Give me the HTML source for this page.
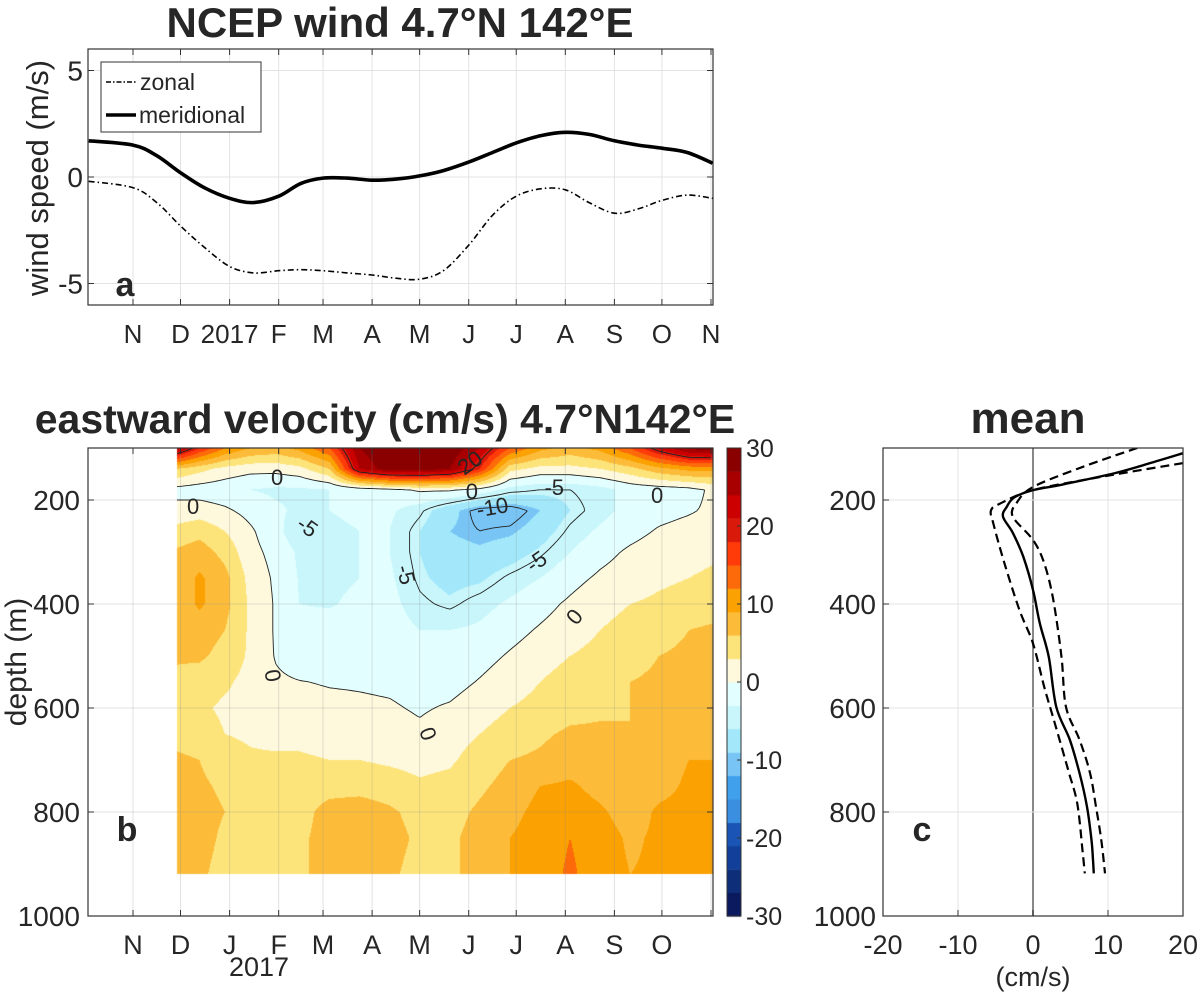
<!DOCTYPE html>
<html><head><meta charset="utf-8">
<style>
html,body{margin:0;padding:0;background:#fff;}
#wrap{position:relative;width:1200px;height:1000px;overflow:hidden;}
canvas,svg{position:absolute;left:0;top:0;}
text{font-family:"Liberation Sans",Arial,sans-serif;fill:#262626;}
</style></head>
<body>
<div id="wrap">
<canvas id="cv" width="1200" height="1000"></canvas>
<svg id="sv" width="1200" height="1000" xmlns="http://www.w3.org/2000/svg"></svg>
</div>
<script>
// ---------- data ----------
const monthDays=[0,30,61,92,120,151,181,212,242,273,304,334,365];
const monthLabelsA=['N','D','2017','F','M','A','M','J','J','A','S','O','N'];
const monthLabelsB=['N','D','J','F','M','A','M','J','J','A','S','O'];
const windDays=[-28,0,15,30,45,61,76,92,106,120,135,151,166,181,196,212,227,242,258,273,288,304,319,334,350,366];
const meridional=[1.7,1.5,1.0,0.2,-0.5,-1.0,-1.2,-0.9,-0.3,-0.05,-0.05,-0.15,-0.1,0.05,0.3,0.7,1.15,1.6,1.95,2.1,2.0,1.7,1.5,1.35,1.15,0.65];
const zonal=[-0.2,-0.5,-1.2,-2.3,-3.3,-4.2,-4.5,-4.4,-4.35,-4.4,-4.5,-4.6,-4.75,-4.8,-4.4,-3.2,-1.8,-0.9,-0.55,-0.6,-1.2,-1.7,-1.5,-1.1,-0.85,-1.0];
const windTicks=[-5,0,5];
const gridDays=[28,42,58,74,90,105,124,143,162,181,200,219,238,257,276,295,314,332,351,366];
const gridDepths=[100,140,180,220,260,300,350,400,450,500,550,600,650,700,750,800,850,920];
const velocity=[
[25,18,12,9,8,10,15,27,31,31,30,24,15,10,8,10,15,22,28,29],
[6,4,2,1,1,2,6,24,29,29,27,18,4,2,2,3,5,8,10,10],
[-1,-1.5,-2,-3,-3.5,-3.5,-3,-2,-1,0.5,0.5,-1,-4,-5,-5,-4,-2,-1.5,-1,0.5],
[1,1.5,0.5,-1,-2.5,-3.5,-3,-2.5,-2.5,-4.5,-8,-11,-11.5,-9,-6,-4,-2,-1,-0.3,0.5],
[4,5,3,0.5,-2,-5,-3.5,-3,-3,-6,-9,-10,-9.5,-7.5,-4.5,-2.5,-1,0.3,1,1.5],
[6.5,7.5,5,1,-1,-3.5,-3.5,-3,-3,-6,-8,-8.5,-7.5,-5.5,-3,-1,0.5,1.5,2,2.5],
[7,9.5,7,2,-0.5,-3.2,-3.5,-3,-2.5,-5.5,-7,-6.5,-4.5,-3,-1,0.5,1.5,2.5,3,3.5],
[7,9.5,7,2.5,-0.3,-3,-3.2,-2.5,-2,-4.5,-5.5,-4,-2.5,-1,0.5,2,3,3.5,4,4.5],
[6.5,7.5,6,2.5,-0.3,-2,-2,-1.5,-1.5,-3,-3,-2.5,-1,0.3,1.5,3,4,5,6,6.5],
[6.5,6.5,5,2.5,-0.2,-1.5,-1.5,-1,-1,-2,-2,-1,0.3,1.5,3,4,5,6,6.5,7],
[5,4.5,3.5,2,0.5,0.1,-0.2,-0.3,-0.5,-1,-1,0.2,1.5,3,4.5,5,6,6.5,7,7],
[4,3.5,2.5,2,1.5,1,0.7,0.5,0.3,-0.3,0.3,1.5,3,4,5,5.5,6,7,7.5,7],
[5,4.5,3,2.5,2,2,1.5,1.5,1.2,0.5,1.5,3,4.5,5.5,6.5,6.5,6,7,8,7.5],
[6.5,6,4.5,3.5,3.5,3.5,3,3,2.5,2,2.5,4.5,6,6.5,7.5,7,6,7.5,9,9],
[6.5,6.5,5.5,4,4,4.5,5,5,4.5,3.5,4,5.5,7,9,9.5,8,7,8,9.5,9.5],
[7,7,6,4.5,4.5,5,7,7.5,6.5,5,5,6.5,8,10,10.5,9.5,7.5,9.5,10,10],
[7.5,7,5.5,4.5,4.5,5.5,7,7.5,7,5.5,5.5,7,9,10.5,12,10.5,8.5,9.5,10,10],
[7,6.5,5,4.5,4.5,5.5,7,7.5,6.5,5,5.5,7,9,10.5,12.5,10.5,9,9.5,10,10]];
const contourLevels=[-10,-5,0,20];
const labelDays=[91,38,110,213,214,227,266,331,172,255,279,88,186];
const labelDepths=[158,213,252,129,185,215,177,192,344,319,425,538,650];
const labelTexts=['0','0','-5','20','0','-10','-5','0','-5','-5','0','0','0'];
const labelAngles=[0,0,35,-35,0,-10,0,0,75,-35,-50,80,70];
const cbTicks=[-30,-20,-10,0,10,20,30];
const levelColors=['#0b1a5e','#0e2e7a','#123f99','#1a55b5','#3a8fe0','#40a0ec','#78c4f5','#a2e8fa','#c8f6fb','#e2fefe','#fef8dc','#fde47a','#fcbc3a','#fba101','#fd6a0a','#ff3b0a','#d91a0a','#cc0000','#a80000','#8a0000'];
const depthTicks=[200,400,600,800,1000];
const meanTicks=[-20,-10,0,10,20];
const meanDepth=[110,123,148,170,181,195,213,232,263,309,373,437,502,598,661,725,790,854,892,918];
const meanVel=[20,17,11,4,0,-2.5,-3.5,-4,-2.7,-1.3,0,0.9,2.1,3.1,4.9,6.2,7.2,7.8,8,8.1];
const upperDepth=[100,136,175,206,232,277,322,392,502,598,661,725,790,854,918];
const upperVel=[13.9,6.7,0,-2.2,-2.7,0,1.5,2.7,3.8,4.4,6.2,7.6,8.4,9.1,9.6];
const lowerDepth=[129,156,181,207,220,245,322,412,476,560,624,720,784,874,918];
const lowerVel=[20,8.9,0,-4.4,-5.6,-5.3,-3.8,-1.8,0,1.5,2.8,4.7,5.9,6.6,6.9];

// ---------- scales ----------
const X0=133, PXD=578/365;
const xT=d=>X0+d*PXD, xTinv=p=>(p-X0)/PXD;
const A={l:88,r:713,t:49,b:305}, yA=v=>177-v*21.3;
const B={l:88,r:713,t:448,b:916}, yD=d=>448+(d-100)*0.52, yDinv=p=>100+(p-448)/0.52;
const C={l:883,r:1183,t:448,b:916}, xC=v=>1033+v*7.5;
const CB={l:727,r:741,t:448,b:916}, yCB=v=>682-v*(234/30);

const NS='http://www.w3.org/2000/svg', sv=document.getElementById('sv');
function el(tag,attrs,parent){const e=document.createElementNS(NS,tag);for(const k in attrs)e.setAttribute(k,attrs[k]);(parent||sv).appendChild(e);return e;}
function txt(s,x,y,size,anchor,parent,extra){const t=el('text',Object.assign({x:x,y:y,'font-size':size,'text-anchor':anchor||'middle'},extra||{}),parent);t.textContent=s;return t;}
function smoothPath(pts){let d='M'+pts[0][0].toFixed(1)+' '+pts[0][1].toFixed(1);for(let i=0;i<pts.length-1;i++){const p0=pts[Math.max(0,i-1)],p1=pts[i],p2=pts[i+1],p3=pts[Math.min(pts.length-1,i+2)];const c1=[p1[0]+(p2[0]-p0[0])/6,p1[1]+(p2[1]-p0[1])/6],c2=[p2[0]-(p3[0]-p1[0])/6,p2[1]-(p3[1]-p1[1])/6];d+=' C'+c1[0].toFixed(1)+' '+c1[1].toFixed(1)+' '+c2[0].toFixed(1)+' '+c2[1].toFixed(1)+' '+p2[0].toFixed(1)+' '+p2[1].toFixed(1);}return d;}

// ---------- field interpolation ----------
function idx(arr,v){let i=0;while(i<arr.length-2&&v>arr[i+1])i++;let f=(v-arr[i])/(arr[i+1]-arr[i]);return [i,Math.max(0,Math.min(1,f))];}
function field(day,dep){const [i,fi]=idx(gridDays,day),[j,fj]=idx(gridDepths,dep);const a=velocity[j][i],b=velocity[j][i+1],c=velocity[j+1][i],d=velocity[j+1][i+1];return (a*(1-fi)+b*fi)*(1-fj)+(c*(1-fi)+d*fi)*fj;}
function hex(c){return [parseInt(c.substr(1,2),16),parseInt(c.substr(3,2),16),parseInt(c.substr(5,2),16)];}
const rgb=levelColors.map(hex);

const ctx=document.getElementById('cv').getContext('2d');
const px0=Math.round(xT(gridDays[0])), px1=Math.round(xT(gridDays[gridDays.length-1]));
const py0=Math.round(yD(gridDepths[0])), py1=Math.round(yD(gridDepths[gridDepths.length-1]));
const img=ctx.createImageData(px1-px0,py1-py0);
for(let y=py0;y<py1;y++){const dep=yDinv(y+0.5);for(let x=px0;x<px1;x++){const v=field(xTinv(x+0.5),dep);let k=Math.floor((v+30)/3);k=Math.max(0,Math.min(19,k));const o=((y-py0)*(px1-px0)+(x-px0))*4;img.data[o]=rgb[k][0];img.data[o+1]=rgb[k][1];img.data[o+2]=rgb[k][2];img.data[o+3]=255;}}
ctx.putImageData(img,px0,py0);
for(let k=0;k<20;k++){ctx.fillStyle=levelColors[k];const yt=yCB(-30+3*(k+1)),yb=yCB(-30+3*k);ctx.fillRect(CB.l,yt,CB.r-CB.l,yb-yt+0.5);}

// ---------- panel a ----------
const gA=el('g',{});
monthDays.forEach((d,i)=>{const x=xT(d);const g=el('line',{x1:x,x2:x,y1:A.t,y2:A.b,stroke:'#e3e3e3','stroke-width':1},gA);
 el('line',{x1:x,x2:x,y1:A.b,y2:A.b-6,stroke:'#333'},gA);el('line',{x1:x,x2:x,y1:A.t,y2:A.t+6,stroke:'#333'},gA);
 const t=txt(monthLabelsA[i],x,343,26,'middle',gA);});
windTicks.forEach(v=>{const y=yA(v);el('line',{x1:A.l,x2:A.r,y1:y,y2:y,stroke:'#e3e3e3'},gA);el('line',{x1:A.l,x2:A.l+6,y1:y,y2:y,stroke:'#333'},gA);el('line',{x1:A.r,x2:A.r-6,y1:y,y2:y,stroke:'#333'},gA);
 const t=txt(String(v),83,y+10,28,'end',gA);});
el('rect',{x:A.l,y:A.t,width:A.r-A.l,height:A.b-A.t,fill:'none',stroke:'#333','stroke-width':1.2,},gA);
const clipA=el('clipPath',{id:'clipA'});el('rect',{x:A.l,y:A.t,width:A.r-A.l,height:A.b-A.t},clipA);
const zp=el('path',{d:smoothPath(windDays.map((d,i)=>[xT(d),yA(zonal[i])])),fill:'none',stroke:'#000','stroke-width':1.6,'stroke-dasharray':'6 3 1.5 3','clip-path':'url(#clipA)'},gA);

const mp=el('path',{d:smoothPath(windDays.map((d,i)=>[xT(d),yA(meridional[i])])),fill:'none',stroke:'#000','stroke-width':3.6,'clip-path':'url(#clipA)'},gA);

const lg=el('g',{},gA);
el('rect',{x:101,y:62,width:160,height:70,fill:'#fff',stroke:'#333','stroke-width':1},lg);
el('line',{x1:106,x2:136,y1:82,y2:82,stroke:'#000','stroke-width':1.6,'stroke-dasharray':'5 2 1.5 2'},lg);
txt('zonal',140,90,23,'start',lg,{});
el('line',{x1:106,x2:136,y1:115,y2:115,stroke:'#000','stroke-width':3.6},lg);
txt('meridional',139,123,23,'start',lg,{});
txt('a',125,296,34,'middle',gA,{'font-weight':'bold','fill':'#000',});
txt('wind speed (m/s)',0,0,31,'middle',gA,{transform:'translate(48,178) rotate(-90)',});
txt('NCEP wind 4.7°N 142°E',400,37,42,'middle',gA,{'font-weight':'bold','fill':'#000',});

// ---------- panel b ----------
const gB=el('g',{});
monthDays.forEach((d,i)=>{const x=xT(d);el('line',{x1:x,x2:x,y1:B.t,y2:B.b,stroke:'#888','stroke-opacity':0.25},gB);el('line',{x1:x,x2:x,y1:B.b,y2:B.b-6,stroke:'#333'},gB);el('line',{x1:x,x2:x,y1:B.t,y2:B.t+6,stroke:'#333'},gB);
 if(i<monthLabelsB.length){const t=txt(monthLabelsB[i],x,954,27,'middle',gB);}});
txt('2017',229,976,27,'start',gB,{});
depthTicks.forEach(v=>{const y=yD(v);el('line',{x1:B.l,x2:B.r,y1:y,y2:y,stroke:'#888','stroke-opacity':0.25},gB);el('line',{x1:B.l,x2:B.l+6,y1:y,y2:y,stroke:'#333'},gB);el('line',{x1:B.r,x2:B.r-6,y1:y,y2:y,stroke:'#333'},gB);
 const t=txt(String(v),80,y+10,28,'end',gB);});
(function(){const step=3;const xs=[],ys=[];for(let x=px0;x<=px1;x+=step)xs.push(x);for(let y=py0;y<=py1;y+=step)ys.push(y);
 const V=ys.map(y=>xs.map(x=>field(xTinv(x),yDinv(y))));
 contourLevels.forEach(L=>{let d='';
  for(let j=0;j<ys.length-1;j++)for(let i=0;i<xs.length-1;i++){
   const c=[[xs[i],ys[j],V[j][i]],[xs[i+1],ys[j],V[j][i+1]],[xs[i+1],ys[j+1],V[j+1][i+1]],[xs[i],ys[j+1],V[j+1][i]]];
   const pts=[];for(let e=0;e<4;e++){const a=c[e],b=c[(e+1)%4];if((a[2]-L)*(b[2]-L)<0){const f=(L-a[2])/(b[2]-a[2]);pts.push([a[0]+f*(b[0]-a[0]),a[1]+f*(b[1]-a[1])]);}}
   if(pts.length>=2){d+='M'+pts[0][0].toFixed(1)+' '+pts[0][1].toFixed(1)+'L'+pts[1][0].toFixed(1)+' '+pts[1][1].toFixed(1);}
   if(pts.length===4){d+='M'+pts[2][0].toFixed(1)+' '+pts[2][1].toFixed(1)+'L'+pts[3][0].toFixed(1)+' '+pts[3][1].toFixed(1);}
  }
  const p=el('path',{d:d,fill:'none',stroke:'#222','stroke-width':0.9},gB);
  
  
 });})();
labelTexts.forEach((s,i)=>{const x=xT(labelDays[i]),y=yD(labelDepths[i]);const t=txt(s,x,y+7,22,'middle',gB,{transform:'rotate('+labelAngles[i]+' '+x+' '+y+')'});});
el('rect',{x:B.l,y:B.t,width:B.r-B.l,height:B.b-B.t,fill:'none',stroke:'#333','stroke-width':1.2,},gB);
txt('b',127,841,34,'middle',gB,{'font-weight':'bold','fill':'#000',});
txt('depth (m)',0,0,30,'middle',gB,{transform:'translate(26,662) rotate(-90)',});
txt('eastward velocity (cm/s) 4.7°N142°E',385,433,41,'middle',gB,{'font-weight':'bold','fill':'#000',});
const gCB=el('g',{});
el('rect',{x:CB.l,y:CB.t,width:CB.r-CB.l,height:CB.b-CB.t,fill:'none',stroke:'#333','stroke-width':1},gCB);
cbTicks.forEach(v=>{const y=yCB(v);el('line',{x1:CB.r-4,x2:CB.r,y1:y,y2:y,stroke:'#333'},gCB);const t=txt(String(v),746,y+9,25,'start',gCB);});

// ---------- panel c ----------
const gC=el('g',{});
meanTicks.forEach(v=>{const x=xC(v);el('line',{x1:x,x2:x,y1:C.t,y2:C.b,stroke:v===0?'#888':'#e3e3e3','stroke-width':v===0?2:1},gC);el('line',{x1:x,x2:x,y1:C.b,y2:C.b-6,stroke:'#333'},gC);
 const t=txt(String(v),x,954,27,'middle',gC);});
depthTicks.forEach(v=>{const y=yD(v);el('line',{x1:C.l,x2:C.r,y1:y,y2:y,stroke:'#e3e3e3'},gC);el('line',{x1:C.l,x2:C.l+6,y1:y,y2:y,stroke:'#333'},gC);
 const t=txt(String(v),876,y+10,28,'end',gC);});
const clipC=el('clipPath',{id:'clipC'});el('rect',{x:C.l,y:C.t,width:C.r-C.l,height:C.b-C.t},clipC);
const up=el('path',{d:smoothPath(upperDepth.map((d,i)=>[xC(upperVel[i]),yD(d)])),fill:'none',stroke:'#000','stroke-width':2.2,'stroke-dasharray':'9 5','clip-path':'url(#clipC)'},gC);

const lo=el('path',{d:smoothPath(lowerDepth.map((d,i)=>[xC(lowerVel[i]),yD(d)])),fill:'none',stroke:'#000','stroke-width':2.2,'stroke-dasharray':'9 5','clip-path':'url(#clipC)'},gC);

const mn=el('path',{d:smoothPath(meanDepth.map((d,i)=>[xC(meanVel[i]),yD(d)])),fill:'none',stroke:'#000','stroke-width':2.4,'clip-path':'url(#clipC)'},gC);

el('rect',{x:C.l,y:C.t,width:C.r-C.l,height:C.b-C.t,fill:'none',stroke:'#333','stroke-width':1.2,},gC);
txt('c',922,841,34,'middle',gC,{'font-weight':'bold','fill':'#000',});
txt('(cm/s)',1033,986,27,'middle',gC,{});
txt('mean',1028,433,44,'middle',gC,{'font-weight':'bold','fill':'#000',});
</script>
</body></html>
